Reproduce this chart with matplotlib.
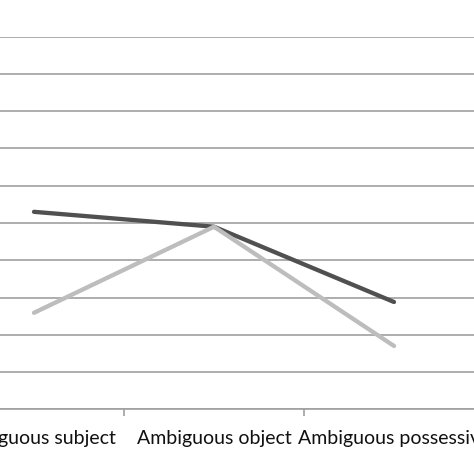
import matplotlib
matplotlib.use("Agg")
import matplotlib.pyplot as plt

categories = ["Ambiguous subject", "Ambiguous object", "Ambiguous possessive"]
series_dark = [5.30, 4.90, 2.88]
series_light = [2.59, 4.90, 1.70]
y_ticks = list(range(0, 11))

W = H = 474
fig = plt.figure(figsize=(W / 100, H / 100), dpi=100)
left_px, right_px = -56, 484
bottom_px, top_px = 409.3, 36.7
ax = fig.add_axes([left_px / W, (H - bottom_px) / H,
                   (right_px - left_px) / W, (bottom_px - top_px) / H])

x = list(range(len(categories)))
ax.plot(x, series_dark, color="#505050", lw=3.1, solid_capstyle="round", zorder=3)
ax.plot(x, series_light, color="#BDBDBD", lw=3.1, solid_capstyle="round", zorder=4)

ax.set_xlim(-0.5, len(categories) - 0.5)
ax.set_ylim(0, 10)
ax.set_yticks(y_ticks)
ax.yaxis.grid(True, color="#A0A0A0", lw=1.2)
ax.set_axisbelow(True)
ax.tick_params(axis="y", left=False, labelleft=False)

for s in ["top", "right", "left"]:
    ax.spines[s].set_visible(False)
ax.spines["bottom"].set_color("#A0A0A0")
ax.spines["bottom"].set_linewidth(1.2)

ax.set_xticks([i + 0.5 for i in range(-1, len(categories))])
ax.set_xticklabels([])
ax.tick_params(axis="x", length=5, color="#A0A0A0", width=1.2)
ax.set_xticks(x, minor=True)
ax.set_xticklabels(categories, minor=True, fontsize=14, family="Lato", color="#111111")
ax.tick_params(axis="x", which="minor", length=0, pad=15)

fig.savefig("out.png", dpi=100)
